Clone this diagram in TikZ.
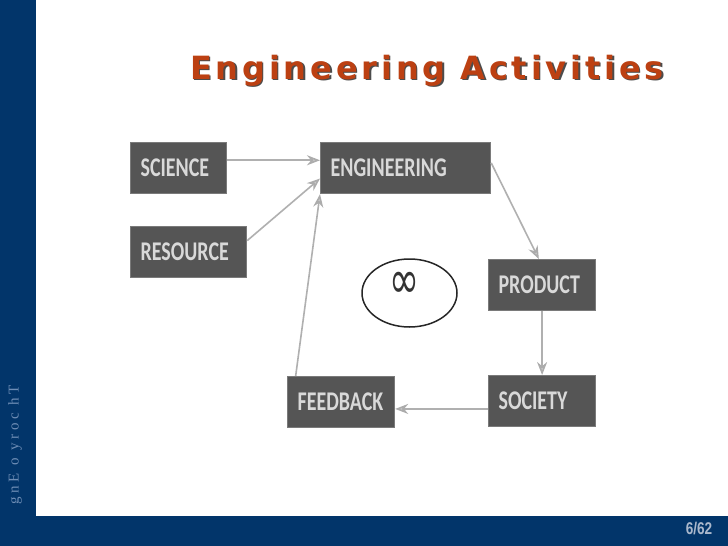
\documentclass[tikz,border=0pt]{standalone}
\usepackage{fontspec}
\usetikzlibrary{arrows.meta,calc,shapes.geometric}
\newfontfamily\titlefont[LetterSpace=12]{DejaVu Sans Bold}
\newfontfamily\boxfont[FakeStretch=0.74]{Carlito Bold}
\newfontfamily\sidefont[LetterSpace=25]{Liberation Serif}
\newfontfamily\numfont[FakeStretch=0.8]{Liberation Sans}
\newfontfamily\symfont{DejaVu Sans}
\definecolor{navy}{HTML}{02356A}
\definecolor{titlered}{HTML}{BC4012}
\definecolor{boxgray}{HTML}{555555}
\definecolor{boxedge}{HTML}{7A7A7A}
\definecolor{arrowgray}{HTML}{B0B0B0}
\definecolor{numgray}{HTML}{AAB8CC}
\definecolor{sideblue}{HTML}{6E8DB5}
\tikzset{
  blk/.style={draw=boxedge, line width=1.2pt, fill=boxgray, text=white!85!black,
    anchor=north west, inner sep=0pt, align=left,
    font=\boxfont\fontsize{27}{27}\selectfont},
  conn/.style={draw=arrowgray, line width=1.6pt,
    -{Stealth[length=13pt,width=10pt,fill=gray!40,color=gray!65]}},
  ttl/.style={anchor=base, font=\titlefont\fontsize{32}{32}\selectfont},
}
\begin{document}
\begin{tikzpicture}[x=1pt,y=-1pt]
\useasboundingbox (0,0) rectangle (728,546);
\fill[white] (0,0) rectangle (728,546);
% frame
\fill[navy] (0,0) rectangle (36,546);
\fill[navy] (0,516) rectangle (728,546);
\node[text=sideblue, rotate=90, font=\sidefont\fontsize{15}{15}\selectfont] (side) at (15,445) {gnE o yroc hT};
\node[text=numgray, font=\numfont\bfseries\fontsize{17}{17}\selectfont] (pg) at (699,529) {6/62};
% title (shadow + text)
\node[ttl, text=black!70] (tshadow) at (428.5,80.5) {Engineering Activities};
\node[ttl, text=titlered] (title) at (427,79) {Engineering Activities};
% boxes
\node[blk, minimum width=96pt, minimum height=51pt, text width=96pt] (sci) at (130,142) {\hspace*{10pt}SCIENCE};
\node[blk, minimum width=116pt, minimum height=51pt, text width=116pt] (res) at (130,226) {\hspace*{10pt}RESOURCE};
\node[blk, minimum width=170pt, minimum height=51pt, text width=170pt] (eng) at (320,142) {\hspace*{10pt}ENGINEERING};
\node[blk, minimum width=107pt, minimum height=51pt, text width=107pt] (prod) at (488,259) {\hspace*{10pt}PRODUCT};
\node[blk, minimum width=107pt, minimum height=51pt, text width=107pt] (soc) at (488,375) {\hspace*{10pt}SOCIETY};
\node[blk, minimum width=107pt, minimum height=51pt, text width=107pt] (fb) at (287,376) {\hspace*{10pt}FEEDBACK};
% ellipse
\node[draw=black!85, line width=1.5pt, ellipse, minimum width=95pt, minimum height=68pt, inner sep=0pt] (ell) at (409.5,293) {};
\node[text=black!80, font=\symfont\fontsize{36}{36}\selectfont, yscale=1.5, inner sep=0pt] (inf) at (404.5,285) {∞};
% connectors
\coordinate (sciout) at ($(sci.north east)!0.35!(sci.south east)$);
\coordinate (engin1) at ($(eng.north west)!0.35!(eng.south west)$);
\coordinate (resout) at ($(res.north east)!0.28!(res.south east)$);
\coordinate (engin2) at ($(eng.north west)!0.7!(eng.south west)$);
\coordinate (fbout) at ($(fb.north west)!0.08!(fb.north east)$);
\coordinate (engout) at ($(eng.north east)!0.4!(eng.south east)$);
\coordinate (prodin) at ($(prod.north west)!0.47!(prod.north east)$);
\coordinate (socout) at ($(soc.north west)!0.65!(soc.south west)$);
\draw[conn] (sciout) -- (engin1);
\draw[conn] (resout) -- (engin2);
\draw[conn] (fbout) -- (eng.south west);
\draw[conn] (engout) -- (prodin);
\draw[conn] (prod.south) -- (soc.north);
\draw[conn] (socout) -- (socout -| fb.east);
\end{tikzpicture}
\end{document}
